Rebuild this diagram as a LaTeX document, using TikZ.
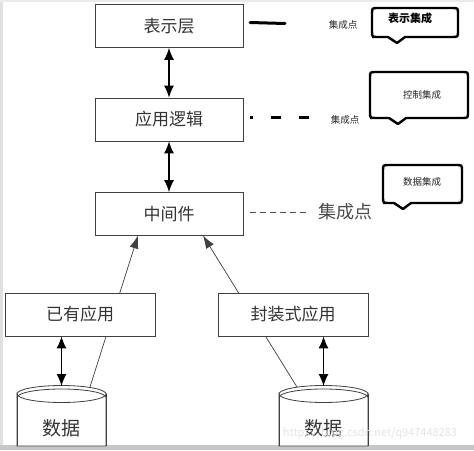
\documentclass[tikz,border=0pt]{standalone}
\usepackage{fontspec}
\setmainfont{Noto Sans CJK SC}
\usetikzlibrary{arrows.meta}
\newcommand\mybubble[5]{% x0 y0 x1 y1 tipx
  \draw[bubbleline] (#1,#4) -- (#5-9,#4) -- (#5,#4+6) -- (#5+8,#4) -- (#3-6,#4)
    .. controls (#3,#4) .. (#3,#4-6) -- (#3,#2+6) .. controls (#3,#2) .. (#3-6,#2)
    -- (#1+6,#2) .. controls (#1,#2) .. (#1,#2+6) -- (#1,#4-6) .. controls (#1,#4) .. (#1+6,#4);}
\begin{document}
\begin{tikzpicture}[x=1pt,y=-1pt,
  layer/.style={draw=black!75, line width=0.8pt, fill=white, minimum width=148pt, minimum height=43pt, inner sep=0pt, font=\fontsize{17}{17}\selectfont, text=black!80},
  app/.style={layer, minimum width=150pt},
  dbl/.style={line width=1.2pt, {Latex[length=12pt,width=10pt]}-{Latex[length=12pt,width=10pt]}},
  slant/.style={draw=black!75, line width=0.7pt, -{Latex[length=13pt,width=9pt]}},
  bubbleline/.style={line width=2.4pt, line join=round},
  small/.style={font=\fontsize{9.5}{10}\selectfont, text=black!85},
  cyl/.style={draw=black!75, line width=0.8pt, fill=white}]
\useasboundingbox (0,0) rectangle (474,450);
\fill[white] (0,0) rectangle (474,450);
% frame edges
\fill[blue!10!black!12] (0,0) rectangle (3,450);
\fill[blue!10!black!8] (0,0) rectangle (474,1.5);
\fill[black!22] (0,445) rectangle (474,450);

% layers
\node[layer] (p1) at (169,26) {表示层};
\node[layer] (p2) at (169,119.5) {应用逻辑};
\node[layer] (p3) at (169,214) {中间件};

\draw[dbl] (p1.south) -- (p2.north);
\draw[dbl] (p2.south) -- (p3.north);

% slanted connectors (behind the app boxes)
\coordinate (c1top) at (90,387);
\coordinate (c2top) at (297,387);
\coordinate (m1) at (138,235.5);
\coordinate (m2) at (203,235.5);
\draw[slant] (c1top) -- (m1);
\draw[slant] (c2top) -- (m2);

% application boxes
\node[app] (a1) at (80,314.5) {已有应用};
\node[app] (a2) at (293,314.5) {封装式应用};

% cylinders
\foreach \cx/\nm in {61.5/d1, 323.5/d2}{
  \path[cyl] (\cx-44.5,394) -- (\cx-44.5,446) -- (\cx+44.5,446) -- (\cx+44.5,394) arc[start angle=0,end angle=180,x radius=44.5pt,y radius=-8.5pt] -- cycle;
  \draw[cyl] (\cx-44.5,394) arc[start angle=180,end angle=360,x radius=44.5pt,y radius=-8.5pt];
  \draw[black!75, line width=0.8pt] (\cx-44.5,397.5) arc[start angle=180,end angle=360,x radius=44.5pt,y radius=-8.5pt];
  \draw[cyl] (\cx-44.5,394) -- (\cx-44.5,446) (\cx+44.5,394) -- (\cx+44.5,446);
}
\node[font=\fontsize{19}{19}\selectfont, text=black!80] (t1) at (61.5,428) {数据};
\node[font=\fontsize{19}{19}\selectfont, text=black!80] (t2) at (323.5,428) {数据};
\coordinate (d1top) at (61.5,386);
\coordinate (d2top) at (323.5,386);
\draw[dbl] (a1.south -| d1top) -- (d1top);
\draw[dbl] (a2.south -| d2top) -- (d2top);

% watermark
\node[font=\fontsize{11}{11}\selectfont, text=black!10] (wm) at (370,433) {https://blog.csdn.net/q947448283};

% integration points
\coordinate (l1a) at (250,22.5);
\coordinate (l1b) at (285,23.5);
\draw[line width=3pt, line cap=round] (l1a) -- (l1b);
\node[small] (i1) at (343,25) {集成点};

\coordinate (l2a) at (250,117);
\coordinate (l2b) at (311,117);
\draw[line width=3pt, dash pattern=on 3pt off 18pt on 10pt off 18pt on 10pt off 10pt] (l2a) -- (l2b);
\node[small] (i2) at (345,120) {集成点};

\coordinate (l3a) at (250,212);
\coordinate (l3b) at (306,212);
\draw[black!70, line width=0.8pt, dash pattern=on 6pt off 4pt] (l3a) -- (l3b);
\node[font=\fontsize{18}{18}\selectfont, text=black!70] (i3) at (345,212) {集成点};

% callouts
\mybubble{372}{8}{458}{37}{397}
\node[font=\fontsize{11}{11}\selectfont\bfseries] (b1) at (410,18.5) {表示集成};
\mybubble{370}{72}{468}{118}{398}
\node[small] (b2) at (422,95) {控制集成};
\mybubble{383}{165}{462}{203}{403}
\node[small] (b3) at (422,182) {数据集成};
\end{tikzpicture}
\end{document}
